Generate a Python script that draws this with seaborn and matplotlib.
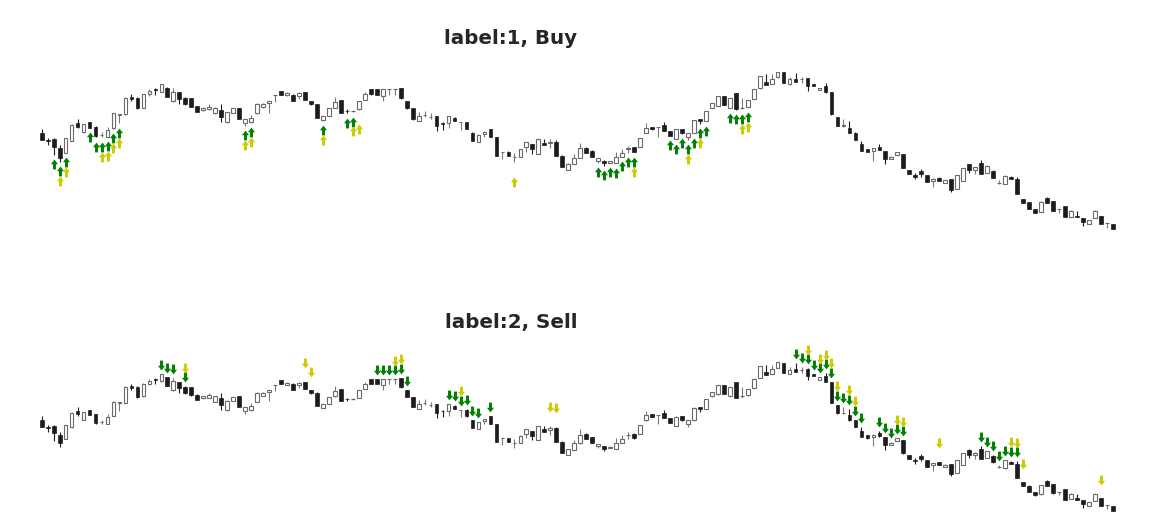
import numpy as np
import pandas as pd
import seaborn as sns
import matplotlib.pyplot as plt
from matplotlib.path import Path

sns.set_style("white")

# OHLC (arbitrary price units)
opens = [116.7, 109.5, 111, 101.7, 97.3, 109.3, 126.7, 117.7, 127.7, 123.3,
         115, 113.3, 121.7, 135, 135.7, 153.3, 152.3, 142.3, 155.7, 160.7,
         158.3, 162.3, 148.7, 157.7, 152.3, 151.7, 144, 140, 141, 136.7,
         140, 128.3, 137.3, 142.3, 126.7, 127.7, 136.7, 143, 146.7, 154.7,
         159.3, 154.7, 155, 154.3, 157.7, 148.7, 146, 130, 134.3, 142.3,
         149.7, 139.3, 139.3, 140.7, 150, 160.7, 160.7, 154.3, 160.7, 160.7,
         161.7, 149.3, 141.7, 129.3, 135, 132.7, 134, 126.7, 126.7, 132.3,
         128.3, 128.3, 117.3, 107.7, 116, 121, 112.7, 98.3, 98.3, 93.3,
         93.3, 102.7, 105.7, 95.7, 107.3, 106.7, 108.3, 94, 80, 85.7,
         92.3, 102.3, 99.3, 89.3, 89.3, 87.3, 86.7, 93.3, 101, 102.7,
         102.7, 116.7, 123.3, 122.7, 124.7, 119, 110.7, 121, 113.3, 116.7,
         130.7, 129, 142.3, 144.3, 154, 142.3, 157.3, 142.3, 143.3, 151,
         161.7, 168.3, 166, 172.7, 177.7, 165.7, 171, 170.7, 171.7, 165.7,
         160, 164, 157.7, 133.3, 124.5, 122.3, 117.3, 106, 101, 99,
         103.3, 99, 90.7, 95, 95.7, 80, 75, 78.7, 75, 69.3,
         72.3, 67.3, 70.7, 60.7, 69.3, 85.7, 80, 86.7, 76.7, 79,
         67.3, 66, 72.7, 71, 51, 47.7, 41, 38.3, 52.3, 49,
         41.3, 44, 33.3, 34, 32, 26, 31.7, 34, 27.3, 25.7]
highs = [121, 111.7, 112, 105, 112, 126, 130.7, 126, 128, 124,
         117.7, 123.3, 137, 136, 153, 155.7, 153, 156, 160.7, 161.7,
         166, 163.3, 161.7, 158, 153, 152, 144.5, 143, 146, 143,
         145.7, 138, 142, 142.5, 131, 135, 147, 147, 149, 154.7,
         159.5, 158, 156, 158, 158, 149, 146.5, 134, 142, 153,
         150, 141, 140.5, 149.5, 158, 161, 161, 161, 160.7, 160.7,
         162, 149.5, 142, 138.3, 139, 136.7, 134.5, 128.3, 134.5, 133,
         128.3, 128.5, 117.5, 115.5, 118.5, 121.5, 113, 98.3, 98.5, 96.7,
         101, 108, 106, 111, 110.7, 111.3, 110, 94.5, 86.5, 96,
         107.3, 103, 99.5, 92, 89.5, 89.3, 98.3, 101, 104, 103,
         112, 126.7, 123.5, 122.7, 128.3, 119.5, 121, 121.5, 117, 130.5,
         131, 139.5, 147, 154.5, 154.5, 152.5, 157.5, 151.7, 150.5, 161.5,
         174.5, 176, 176, 178.5, 178, 173.3, 177.3, 173.3, 172, 166,
         162.5, 166.7, 158, 133.5, 130.7, 129.3, 117.5, 109.3, 101.3, 102,
         105.7, 99.3, 93.5, 98, 96, 80.3, 77.3, 80.7, 75.3, 71.5,
         73, 70.3, 71, 75.3, 82, 86, 83, 90, 84.5, 80,
         70, 74.5, 74, 73.3, 51.3, 48, 41.3, 48.5, 53.3, 49.3,
         41.3, 44.3, 40, 39, 32.3, 30.3, 40, 34.3, 27.3, 26]
lows = [110, 105, 95, 88.3, 97, 109, 121.7, 117, 122, 112.7,
        112.7, 113, 121, 126.7, 135, 149.3, 141, 142, 154, 155,
        158, 153, 148, 146, 145, 143, 138, 139.5, 140.5, 136,
        128.3, 126.7, 137, 131, 124, 127, 136, 142.5, 137.3, 148.3,
        155, 154, 149, 150.7, 150, 145, 132, 129.5, 134, 142,
        137, 137, 138, 140.5, 150, 155.5, 155, 149.3, 155, 155,
        151.5, 141.5, 130.5, 129, 132.7, 130.7, 119.3, 120, 121.7, 129,
        120, 120.7, 108.7, 107.5, 112.7, 112.5, 94, 91, 93.5, 87.7,
        93, 98.3, 95.7, 95.5, 104.7, 101.7, 94, 82.5, 79.7, 85.5,
        92, 97, 93, 87, 84, 87, 86.5, 93, 97.3, 97.5,
        102.5, 116.5, 120.5, 113.3, 119, 114, 110.5, 116, 110, 116.5,
        126, 128.7, 142, 144, 144.7, 142, 140.5, 141, 143, 150.7,
        161.5, 164.7, 165.7, 172.5, 167, 165.5, 168, 167.3, 159.3, 164,
        159.7, 157.5, 135.5, 124, 123.3, 116.5, 109.7, 98.7, 97.5, 89.3,
        99.7, 85.7, 90.5, 94.7, 81.5, 75.5, 71, 73.3, 67.5, 63.3,
        69, 67, 57.7, 60.5, 69, 76.7, 75.7, 75.5, 76.5, 72,
        66, 65.7, 70.5, 55.7, 47, 40.5, 37, 38, 47, 39,
        37.3, 32.5, 33, 32.5, 24, 25.7, 31.5, 25.7, 22.3, 20.7]
closes = [110, 109, 103.3, 92.3, 111.7, 125, 123.3, 125.7, 122.3, 114.3,
          115, 120, 136.7, 136, 152.3, 150.7, 141.7, 155.7, 159, 160,
          165.7, 153.3, 158.3, 150.7, 146, 143.3, 138.3, 142.3, 143.3, 142.3,
          132.7, 137.7, 141.7, 131.3, 130.7, 131.7, 146.3, 146.3, 148.7, 154.7,
          155, 156.7, 149.3, 156.7, 150, 145.7, 132.3, 133.7, 141.7, 148.3,
          137.3, 139, 139.3, 149, 155.7, 155.7, 155, 160.7, 160.7, 160.7,
          151.7, 141.7, 130.7, 134, 135, 132.7, 124.3, 126.3, 134, 129.3,
          128.3, 121, 109, 115, 118.3, 112.7, 94, 98.3, 94, 93.3,
          100.7, 107.7, 100.7, 110.7, 105, 108.3, 94, 82.7, 86, 92.3,
          101.7, 97.3, 93.3, 91.7, 86.7, 89, 93.3, 96.7, 101.7, 97.7,
          111.7, 122.3, 120.7, 122.7, 119.3, 114.3, 120.7, 116.7, 116.7, 130,
          129, 139, 146.7, 154, 145, 152.3, 140.7, 142.5, 150, 161,
          174, 165, 171, 178.3, 167.3, 170.7, 168.3, 170.7, 164, 164.3,
          162.3, 157.7, 135.7, 124.3, 125, 116.7, 110, 99, 97.7, 101.7,
          100, 90.7, 93.3, 97.7, 81.7, 75.7, 73.3, 75.7, 67.7, 71.3,
          69.3, 70, 60, 75, 81.7, 80, 82.7, 75.7, 84.3, 72.3,
          67.3, 74.3, 70.7, 56, 47.3, 40.7, 37.3, 48.3, 47.3, 39.3,
          41.3, 32.7, 39, 32.7, 27.7, 30, 39, 26, 27.3, 21]

# candle indices carrying a marker
buy_green = [2, 3, 4, 8, 9, 10, 11, 12, 13, 34, 35, 47, 51, 52,
             93, 94, 95, 96, 97, 98, 99, 105, 106, 107, 108, 109, 110, 111,
             115, 116, 117, 118]
buy_yellow = [3, 4, 10, 11, 12, 13, 34, 35, 47, 52, 53, 79, 99, 108, 110, 117, 118]
sell_green = [20, 21, 22, 24, 56, 57, 58, 59, 60, 61, 68, 69, 70, 71, 72, 73, 75,
              126, 127, 128, 129, 130, 131, 132, 133, 134, 135, 136, 137,
              140, 141, 142, 143, 144, 157, 158, 159, 160, 161, 162, 163]
sell_yellow = [24, 44, 45, 59, 60, 70, 85, 86, 128, 130, 131, 132, 133, 135, 136,
               143, 144, 150, 162, 163, 164, 177]

df = pd.DataFrame({"open": opens, "high": highs, "low": lows, "close": closes})
df["idx"] = np.arange(len(df))
up = df.close >= df.open

# fat arrow markers
arrow = [(0, 1), (0.72, 0.05), (0.3, 0.05), (0.3, -1), (-0.3, -1),
         (-0.3, 0.05), (-0.72, 0.05), (0, 1)]
up_arrow = Path(arrow, closed=True)
down_arrow = Path([(x, -y) for x, y in arrow], closed=True)

GREEN = "#008000"
YELLOW = "#CCCC00"
DARK = "#1c1c1c"
SIZE = 50


def draw_candles(ax):
    ax.vlines(df.idx[up], df.low[up], df.high[up], color="#7a7a7a", lw=0.8, zorder=1)
    ax.vlines(df.idx[~up], df.low[~up], df.high[~up], color=DARK, lw=0.8, zorder=1)
    ax.bar(df.idx[up], (df.close - df.open)[up], bottom=df.open[up], width=0.62,
           facecolor="white", edgecolor="#6a6a6a", linewidth=0.8, zorder=2)
    ax.bar(df.idx[~up], (df.close - df.open)[~up], bottom=df.open[~up], width=0.62,
           facecolor=DARK, edgecolor=DARK, linewidth=0.5, zorder=2)


fig = plt.figure(figsize=(11.51, 5.32), dpi=100)
ax1 = fig.add_axes([0.03103, 0.5489, 0.9409, 0.3383])
ax2 = fig.add_axes([0.03103, 0.0205, 0.9409, 0.3368])

# Buy panel
draw_candles(ax1)
g = df.loc[buy_green]
sns.scatterplot(x=g.idx, y=g.low - 9.5, marker=up_arrow, s=SIZE, color=GREEN,
                linewidth=0, ax=ax1, legend=False, zorder=3)
y_ = df.loc[buy_yellow]
sns.scatterplot(x=y_.idx, y=y_.low - 19.5, marker=up_arrow, s=SIZE, color=YELLOW,
                linewidth=0, ax=ax1, legend=False, zorder=3)
ax1.set_xlim(-1, 180)
ax1.set_ylim(10, 190)

# Sell panel
draw_candles(ax2)
g = df.loc[sell_green]
sns.scatterplot(x=g.idx, y=g.high + 9.5, marker=down_arrow, s=SIZE, color=GREEN,
                linewidth=0, ax=ax2, legend=False, zorder=3)
y_ = df.loc[sell_yellow]
sns.scatterplot(x=y_.idx, y=y_.high + 19.5, marker=down_arrow, s=SIZE, color=YELLOW,
                linewidth=0, ax=ax2, legend=False, zorder=3)
ax2.set_xlim(-1, 180)
ax2.set_ylim(10, 200)

for ax in (ax1, ax2):
    ax.set_axis_off()

fig.text(0.444, 1 - 44.5 / 532, "label:1, Buy", ha="center", va="baseline",
         fontsize=14.3, fontweight="bold", color="#262626")
fig.text(0.444, 1 - 328 / 532, "label:2, Sell", ha="center", va="baseline",
         fontsize=14.3, fontweight="bold", color="#262626")

fig.savefig("out.png", dpi=100)
